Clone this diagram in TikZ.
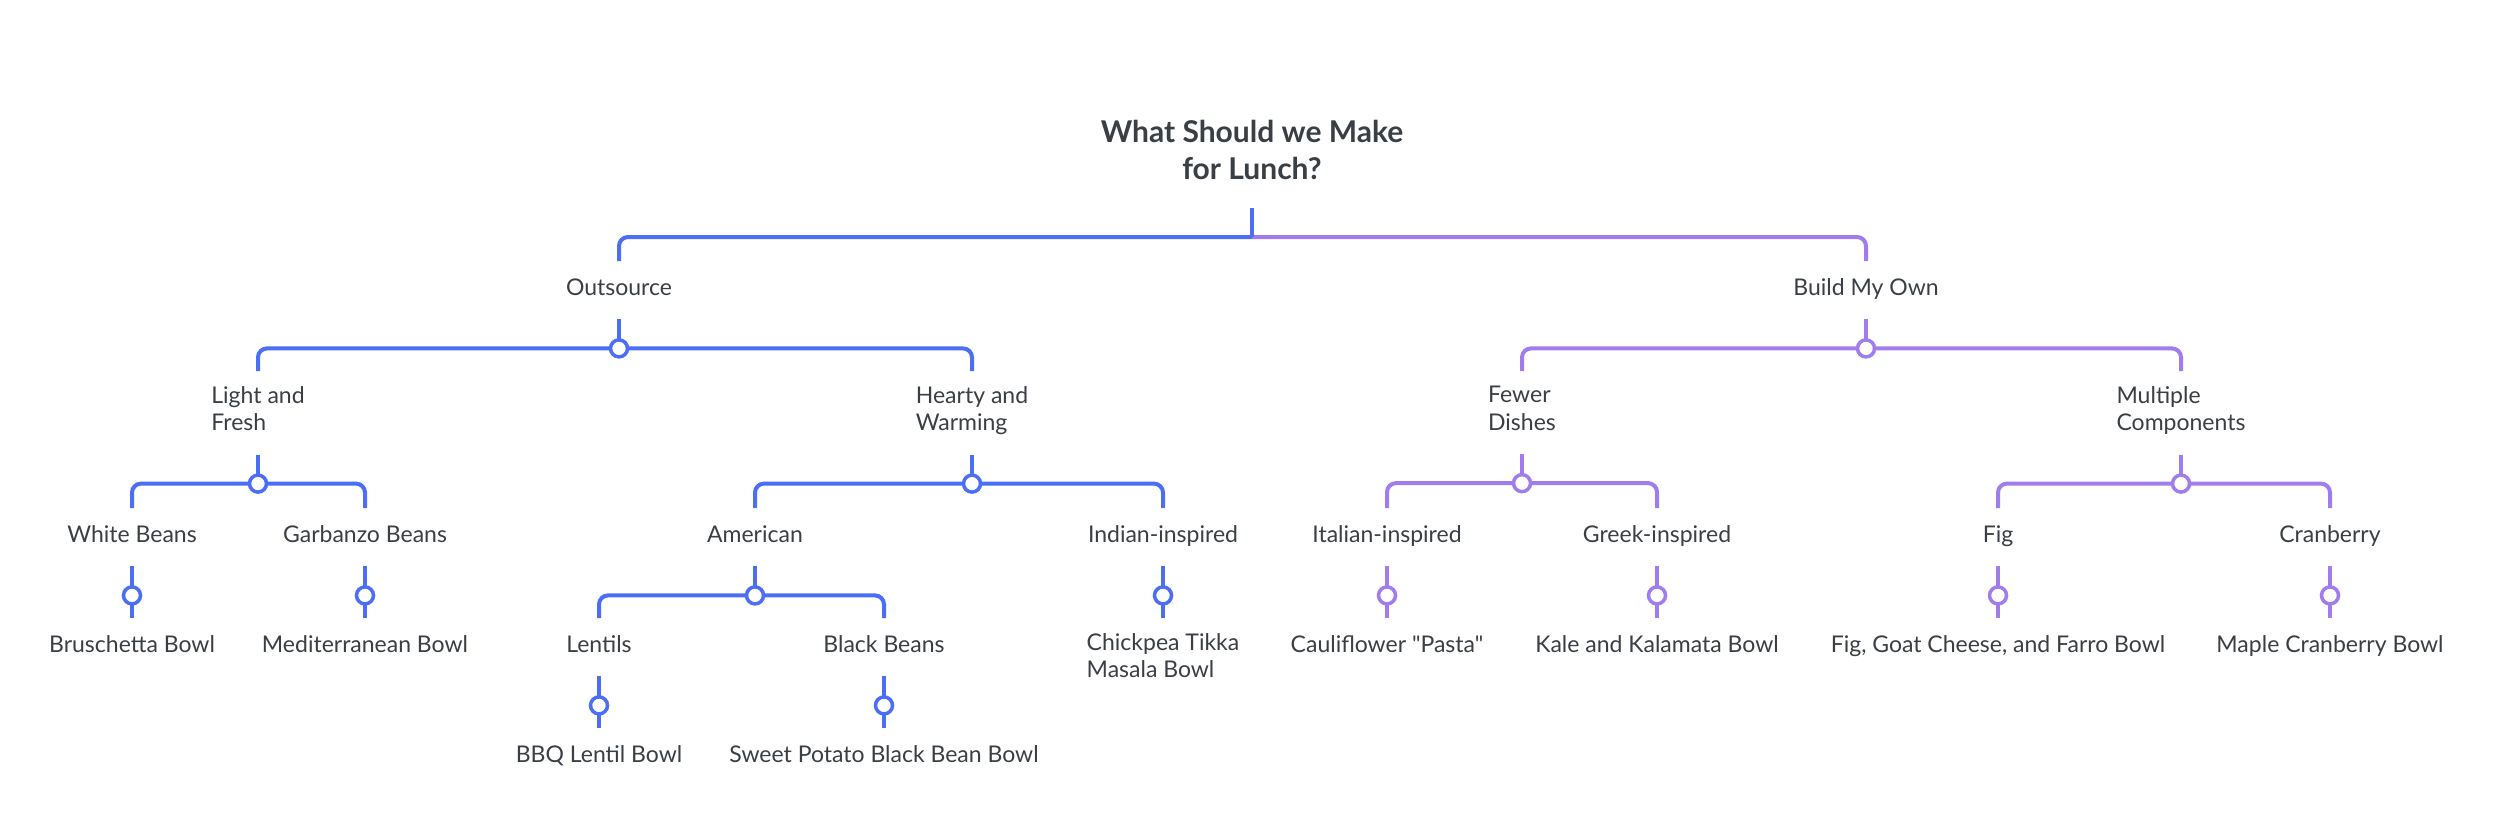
\documentclass[tikz,border=0pt]{standalone}
\usepackage{fontspec}
\setmainfont{Lato}[Ligatures=TeXOff]
\usetikzlibrary{positioning}
\definecolor{mapblue}{HTML}{4B6EF5}
\definecolor{mappurple}{HTML}{A07CEC}
\definecolor{maptext}{HTML}{3A3F45}

\tikzset{
  topic/.style={font=\fontsize{23}{27.5}\selectfont, text=maptext,
    align=left, anchor=north, inner xsep=0pt, inner ysep=15.25pt,
    execute at begin node=\strut, execute at end node=\strut},
  rootnode/.style={font=\bfseries\fontsize{30}{37}\selectfont, text=maptext,
    align=center, anchor=south, inner xsep=0pt, inner ysep=17pt,
    execute at begin node=\strut, execute at end node=\strut},
  bluebr/.style={draw=mapblue, line width=4pt, rounded corners=9pt},
  purpbr/.style={draw=mappurple, line width=4pt, rounded corners=9pt},
  joint/.style={circle, fill=white, line width=3.5pt, minimum size=17pt,
    inner sep=0pt}
}

\begin{document}
\begin{tikzpicture}[x=1pt, y=-1pt]
  % Canvas
  \fill[white] (0,0) rectangle (2500,839);
  \useasboundingbox (0,0) rectangle (2500,839);

  % Root
  \node[rootnode] (lunch) at (1252,208) {What Should we Make\\for Lunch?};

  % Main branches
  \node[topic] (out) at (619,261) {Outsource};
  \node[topic] (own) at (1866,261) {Build My Own};

  % Third level
  \node[topic] (light)  at (258,371)  {Light and\\Fresh};
  \node[topic] (hearty) at (972,371)  {Hearty and\\Warming};
  \node[topic] (fewer)  at (1522,371) {Fewer\\Dishes};
  \node[topic] (multi)  at (2181,371) {Multiple\\Components};

  % Fourth level
  \node[topic] (white)  at (132,508)  {White Beans};
  \node[topic] (garb)   at (365,508)  {Garbanzo Beans};
  \node[topic] (amer)   at (755,508)  {American};
  \node[topic] (indian) at (1163,508) {Indian-inspired};
  \node[topic] (ital)   at (1387,508) {Italian-inspired};
  \node[topic] (greek)  at (1657,508) {Greek-inspired};
  \node[topic] (fig)    at (1998,508) {Fig};
  \node[topic] (cran)   at (2330,508) {Cranberry};

  % Fifth level
  \node[topic] (brus)  at (132,618)  {Bruschetta Bowl};
  \node[topic] (medit) at (365,618)  {Mediterranean Bowl};
  \node[topic] (lent)  at (599,618)  {Lentils};
  \node[topic] (black) at (884,618)  {Black Beans};
  \node[topic] (chick) at (1163,618) {Chickpea Tikka\\Masala Bowl};
  \node[topic] (caul)  at (1387,618) {Cauliflower "Pasta"};
  \node[topic] (kale)  at (1657,618) {Kale and Kalamata Bowl};
  \node[topic] (farro) at (1998,618) {Fig, Goat Cheese, and Farro Bowl};
  \node[topic] (maple) at (2330,618) {Maple Cranberry Bowl};

  % Sixth level
  \node[topic] (bbq)   at (599,728) {BBQ Lentil Bowl};
  \node[topic] (sweet) at (884,728) {Sweet Potato Black Bean Bowl};

  % Junction points
  \coordinate[below=29pt of lunch.south] (jroot);
  \foreach \p in {out,own,light,hearty,fewer,multi,white,garb,amer,indian,
                  ital,greek,fig,cran,lent,black}
    \coordinate[below=29pt of \p.south] (j\p);

  % Root connectors
  \draw[purpbr] (jroot) -| (own.north);
  \draw[bluebr] (jroot) -| (out.north);
  \draw[bluebr, rounded corners=0pt] (lunch.south) -- (jroot);

  % Outsource side
  \draw[bluebr] (out.south) -- (jout);
  \draw[bluebr] (light.north) |- (jout) -| (hearty.north);
  \draw[bluebr] (light.south) -- (jlight);
  \draw[bluebr] (white.north) |- (jlight) -| (garb.north);
  \draw[bluebr] (hearty.south) -- (jhearty);
  \draw[bluebr] (amer.north) |- (jhearty) -| (indian.north);
  \draw[bluebr] (amer.south) -- (jamer);
  \draw[bluebr] (lent.north) |- (jamer) -| (black.north);
  \draw[bluebr] (white.south) -- (brus.north);
  \draw[bluebr] (garb.south) -- (medit.north);
  \draw[bluebr] (indian.south) -- (chick.north);
  \draw[bluebr] (lent.south) -- (bbq.north);
  \draw[bluebr] (black.south) -- (sweet.north);

  % Build My Own side
  \draw[purpbr] (own.south) -- (jown);
  \draw[purpbr] (fewer.north) |- (jown) -| (multi.north);
  \draw[purpbr] (fewer.south) -- (jfewer);
  \draw[purpbr] (ital.north) |- (jfewer) -| (greek.north);
  \draw[purpbr] (multi.south) -- (jmulti);
  \draw[purpbr] (fig.north) |- (jmulti) -| (cran.north);
  \draw[purpbr] (ital.south) -- (caul.north);
  \draw[purpbr] (greek.south) -- (kale.north);
  \draw[purpbr] (fig.south) -- (farro.north);
  \draw[purpbr] (cran.south) -- (maple.north);

  % Junction circles
  \foreach \p in {out,light,hearty,amer,white,garb,indian,lent,black}
    \node[joint, draw=mapblue] (c\p) at (j\p) {};
  \foreach \p in {own,fewer,multi,ital,greek,fig,cran}
    \node[joint, draw=mappurple] (c\p) at (j\p) {};
\end{tikzpicture}
\end{document}
